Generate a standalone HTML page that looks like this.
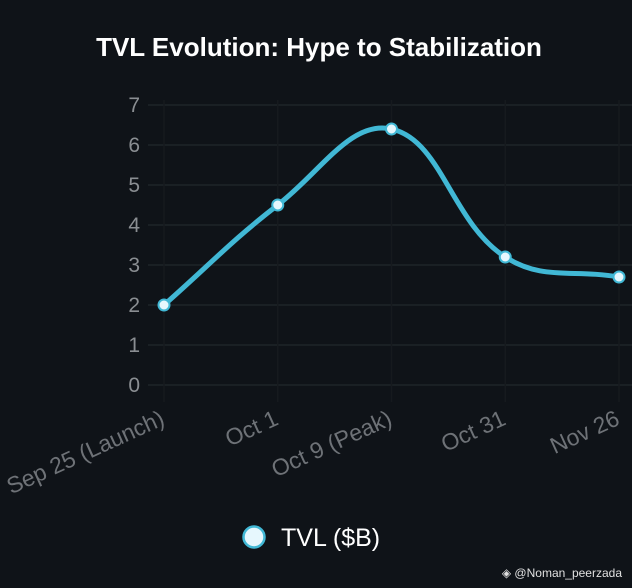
<!DOCTYPE html>
<html><head><meta charset="utf-8"><style>
html,body{margin:0;padding:0;background:#0f1318;}
svg{display:block;font-family:"Liberation Sans",sans-serif;}
</style></head><body>
<svg id="chart" width="632" height="588" viewBox="0 0 632 588">
<rect width="632" height="588" fill="#0f1318"/>
<text x="319" y="56" text-anchor="middle" fill="#ffffff" font-size="26" font-weight="bold">TVL Evolution: Hype to Stabilization</text>
<g id="grid"></g><g id="series"></g><g id="xlabels"></g><g id="ylabels"></g>
<g>
<circle cx="254" cy="537" r="10.5" fill="#e6f7fd" stroke="#41b8d5" stroke-width="2.5"/>
<text x="281" y="546" fill="#ffffff" font-size="25">TVL ($B)</text>
</g>
<text x="622" y="577" text-anchor="end" fill="#e0e0e0" font-size="12">◈ @Noman_peerzada</text>
</svg>
<script>
const categories=["Sep 25 (Launch)","Oct 1","Oct 9 (Peak)","Oct 31","Nov 26"];
const tvlValues=[2,4.5,6.4,3.2,2.7];
const yTicks=[0,1,2,3,4,5,6,7];
const NS="http://www.w3.org/2000/svg";
const x0=164,dx=113.75,yBase=385,yPer=40;
const xs=i=>x0+i*dx, ys=v=>yBase-v*yPer;
function mk(t,a,p){const e=document.createElementNS(NS,t);for(const k in a)e.setAttribute(k,a[k]);p.appendChild(e);return e;}
const grid=document.getElementById('grid'),ser=document.getElementById('series'),xl=document.getElementById('xlabels'),yl=document.getElementById('ylabels');
yTicks.forEach(v=>{
 const l=mk('line',{x1:148,x2:632,y1:ys(v),y2:ys(v),stroke:'#1f2428','stroke-width':1.5},grid);
 
 
 const t=mk('text',{x:140,y:ys(v)+7,'text-anchor':'end',fill:'#8a8e92','font-size':21},yl);
 t.textContent=v;
 
 
});
categories.forEach((c,i)=>{
 const l=mk('line',{x1:xs(i),x2:xs(i),y1:100,y2:402,stroke:'#161a1e','stroke-width':1.5},grid);
 
 
 const t=mk('text',{x:0,y:0,'text-anchor':'end',fill:'#6e7277','font-size':23,transform:`translate(${xs(i)+2},${424}) rotate(-24.5)`},xl);
 t.textContent=c;
 
 
});
const pts=tvlValues.map((v,i)=>[xs(i),ys(v)]);
const T=0.4;let d=`M${pts[0][0]},${pts[0][1]}`;
const cps=pts.map((p,i)=>{
 const pr=pts[Math.max(0,i-1)],nx=pts[Math.min(pts.length-1,i+1)];
 const d01=Math.hypot(p[0]-pr[0],p[1]-pr[1]),d12=Math.hypot(nx[0]-p[0],nx[1]-p[1]);
 let fa=d01/(d01+d12)||0,fb=d12/(d01+d12)||0;fa*=T;fb*=T;
 return {p:[p[0]-fa*(nx[0]-pr[0]),p[1]-fa*(nx[1]-pr[1])],n:[p[0]+fb*(nx[0]-pr[0]),p[1]+fb*(nx[1]-pr[1])]};
});
for(let i=1;i<pts.length;i++){d+=` C${cps[i-1].n[0]},${cps[i-1].n[1]} ${cps[i].p[0]},${cps[i].p[1]} ${pts[i][0]},${pts[i][1]}`;}
const path=mk('path',{d:d,fill:'none',stroke:'#41b8d5','stroke-width':5,'stroke-linecap':'round'},ser);


pts.forEach(p=>{
 const c=mk('circle',{cx:p[0],cy:p[1],r:5.5,fill:'#e6f7fd',stroke:'#41b8d5','stroke-width':2},ser);
 
 
});
</script>
</body></html>
